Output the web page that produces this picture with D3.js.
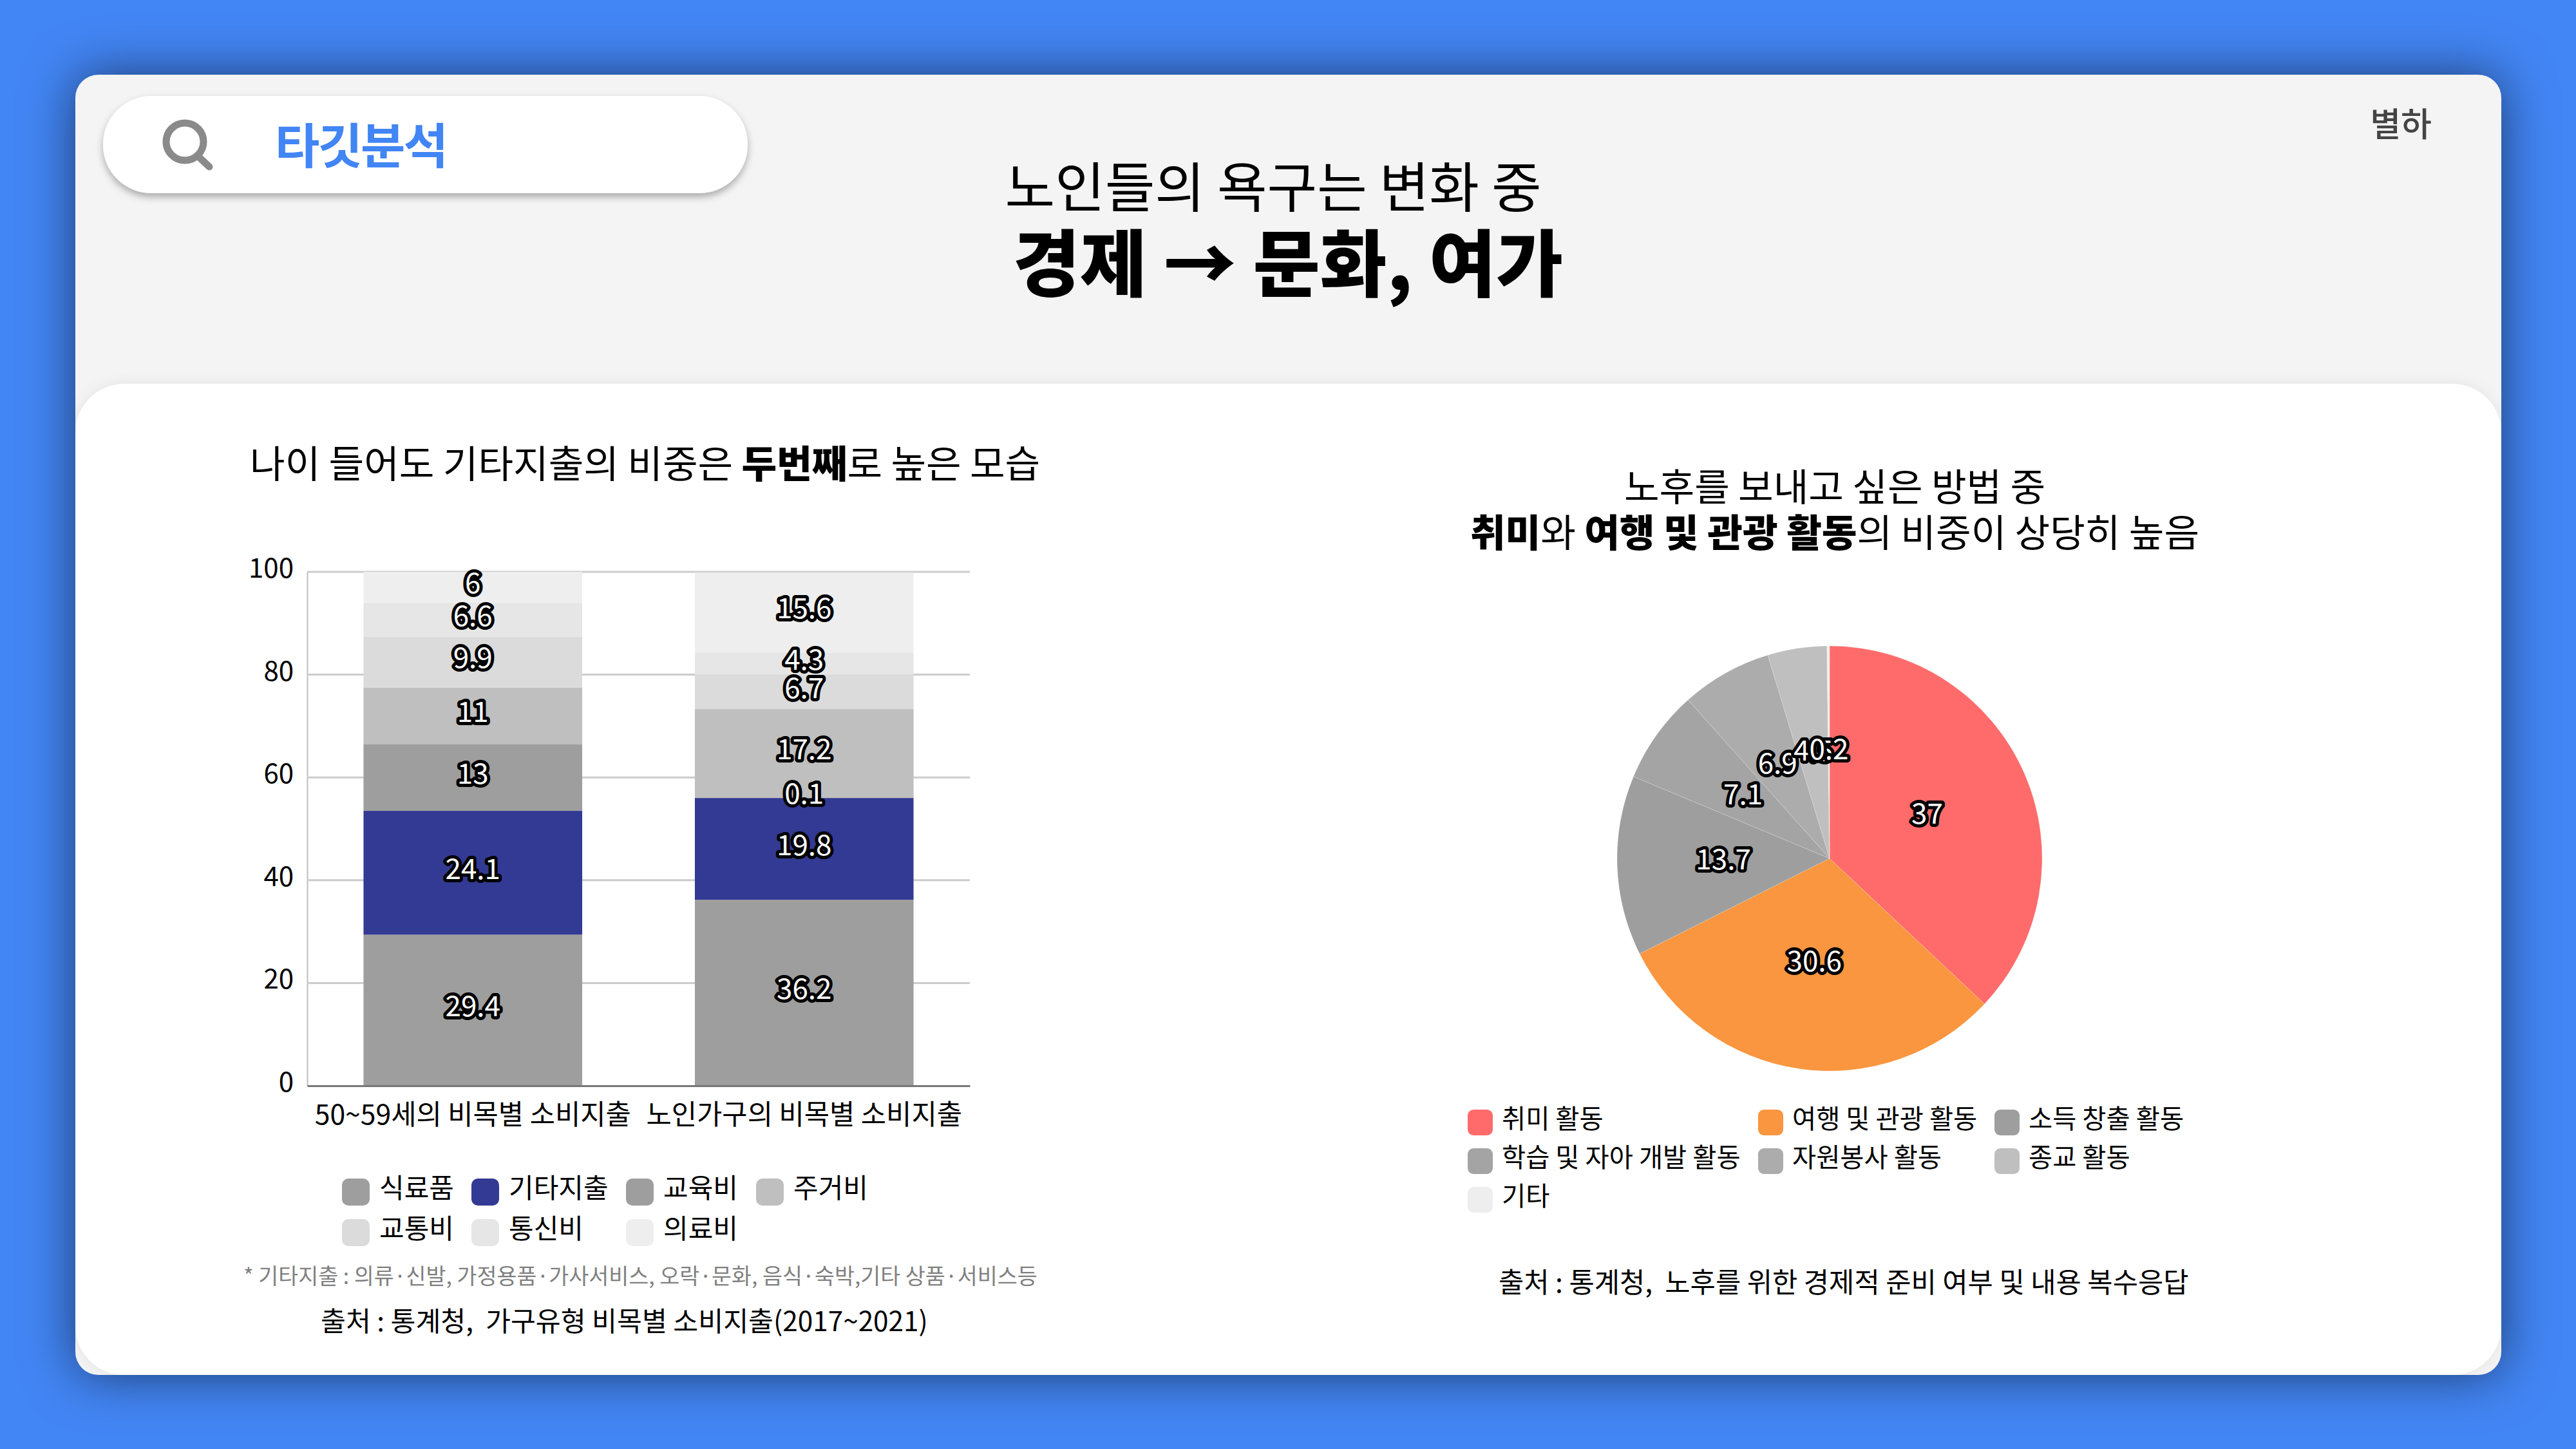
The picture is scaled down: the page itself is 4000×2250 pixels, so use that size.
<!DOCTYPE html>
<html>
<head>
<meta charset="utf-8">
<script src="https://cdn.jsdelivr.net/npm/d3@7"></script>
<style>
  html, body { margin: 0; padding: 0; background: #4285f4; }
  svg { display: block; }
  text { font-family: "Noto Sans CJK KR", "Noto Sans", sans-serif; }
</style>
</head>
<body>
<svg id="page"></svg>
<script>
const barCategories = ["50~59세의 비목별 소비지출", "노인가구의 비목별 소비지출"];
const barSeries = ["식료품", "기타지출", "교육비", "주거비", "교통비", "통신비", "의료비"];
const barColors = ["#9e9e9e", "#333a93", "#9e9e9e", "#bfbfbf", "#dbdbdb", "#e6e6e6", "#eeeeee"];
const age50Values = [29.4, 24.1, 13, 11, 9.9, 6.6, 6];
const elderValues = [36.2, 19.8, 0.1, 17.2, 6.7, 4.3, 15.6];
const yTicks = [0, 20, 40, 60, 80, 100];

const pieLabels = ["취미 활동", "여행 및 관광 활동", "소득 창출 활동", "학습 및 자아 개발 활동", "자원봉사 활동", "종교 활동", "기타"];
const pieValues = [37, 30.6, 13.7, 7.1, 6.9, 4.5, 0.2];
const pieColors = ["#ff6b6b", "#f9963f", "#9e9e9e", "#a4a4a4", "#acacac", "#bfbfbf", "#eeeeee"];

const svg = d3.select("#page").attr("width", 4000).attr("height", 2250);

const defs = svg.append("defs");
const panelShadow = defs.append("filter").attr("id", "panelShadow")
    .attr("x", "-10%").attr("y", "-10%").attr("width", "120%").attr("height", "120%");
panelShadow.append("feDropShadow")
    .attr("dx", 0).attr("dy", 0).attr("stdDeviation", 40)
    .attr("flood-color", "#000").attr("flood-opacity", 0.55);
const pillShadow = defs.append("filter").attr("id", "pillShadow")
    .attr("x", "-10%").attr("y", "-30%").attr("width", "120%").attr("height", "160%");
pillShadow.append("feDropShadow")
    .attr("dx", 0).attr("dy", 6).attr("stdDeviation", 6)
    .attr("flood-color", "#000").attr("flood-opacity", 0.3);
const whiteShadow = defs.append("filter").attr("id", "whiteShadow")
    .attr("x", "-5%").attr("y", "-10%").attr("width", "110%").attr("height", "120%");
whiteShadow.append("feDropShadow")
    .attr("dx", 0).attr("dy", 0).attr("stdDeviation", 10)
    .attr("flood-color", "#000").attr("flood-opacity", 0.07);
defs.append("clipPath").attr("id", "panelClip").append("rect")
    .attr("x", 117).attr("y", 116).attr("width", 3767).attr("height", 2019).attr("rx", 36);

// page chrome
svg.append("rect").attr("width", 4000).attr("height", 2250).attr("fill", "#4285f4");
svg.append("rect").attr("x", 117).attr("y", 116).attr("width", 3767).attr("height", 2019).attr("rx", 36)
    .attr("fill", "#f4f4f4").attr("filter", "url(#panelShadow)");
svg.append("g").attr("clip-path", "url(#panelClip)")
    .append("rect").attr("x", 117).attr("y", 596).attr("width", 3767).attr("height", 1539).attr("rx", 76)
    .attr("fill", "#fff").attr("filter", "url(#whiteShadow)");

svg.append("rect").attr("x", 160).attr("y", 149).attr("width", 1001).attr("height", 151).attr("rx", 75)
    .attr("fill", "#fff").attr("filter", "url(#pillShadow)");
svg.append("circle").attr("cx", 287).attr("cy", 220).attr("r", 29)
    .attr("fill", "none").attr("stroke", "#8a8a8a").attr("stroke-width", 11);
svg.append("line").attr("x1", 308).attr("y1", 243).attr("x2", 325).attr("y2", 259)
    .attr("stroke", "#8a8a8a").attr("stroke-width", 11).attr("stroke-linecap", "round");

const addText = (x, y, parts, size, opts = {}) => {
    const t = svg.append("text")
        .attr("x", x).attr("y", y)
        .attr("dy", "0.35em")
        .attr("font-size", size)
        .attr("font-weight", opts.weight || 400)
        .attr("fill", opts.fill || "#000")
        .attr("text-anchor", opts.anchor || "start")
        .attr("letter-spacing", opts.spacing || 0)
        .attr("xml:space", "preserve");
    (Array.isArray(parts) ? parts : [parts]).forEach(p => {
        const bold = typeof p !== "string";
        t.append("tspan").attr("font-weight", bold ? 900 : null).text(bold ? p.b : p);
    });
    return t;
};

addText(427, 228, "타깃분석", 75.5, {weight: 700, fill: "#4285f4", spacing: -3});
addText(3728, 194, "별하", 52, {weight: 500, fill: "#444", anchor: "middle"});
addText(1977, 292, "노인들의 욕구는 변화 중", 84.4, {anchor: "middle"});
addText(2000, 411, "경제 → 문화, 여가", 113, {weight: 900, anchor: "middle"});
addText(388, 721, ["나이 들어도 기타지출의 비중은 ", {b: "두번째"}, "로 높은 모습"], 59.4);
addText(2849, 757, "노후를 보내고 싶은 방법 중", 59.4, {anchor: "middle"});
addText(2849, 828, [{b: "취미"}, "와 ", {b: "여행 및 관광 활동"}, "의 비중이 상당히 높음"], 59.4, {anchor: "middle"});

// stacked bars
const barTable = barCategories.map((c, i) => {
    const row = {category: c};
    barSeries.forEach((s, j) => { row[s] = [age50Values, elderValues][i][j]; });
    return row;
});
const stacked = d3.stack().keys(barSeries)(barTable);

const x = d3.scaleBand().domain(barCategories).range([477, 1506]).paddingInner(0.34).paddingOuter(0.17);
const y = d3.scaleLinear().domain([0, 100]).range([1686, 888]);

const yAxis = svg.append("g").attr("transform", "translate(477,0)")
    .call(d3.axisLeft(y).tickValues(yTicks).tickSize(0).tickPadding(21));
yAxis.select(".domain").attr("stroke", "#bdbdbd").attr("stroke-width", 2);
yAxis.selectAll("text").attr("font-size", 42).attr("fill", "#000").attr("dy", "0.2em")
    .style("font-family", '"Noto Sans CJK KR", sans-serif');

svg.append("g").selectAll("line").data(yTicks.filter(d => d > 0)).join("line")
    .attr("x1", 477).attr("x2", 1506)
    .attr("y1", d => y(d)).attr("y2", d => y(d))
    .attr("stroke", "#cccccc").attr("stroke-width", 3);

svg.append("g").selectAll("g").data(stacked).join("g")
    .attr("fill", (d, i) => barColors[i])
    .selectAll("rect").data(d => d).join("rect")
        .attr("x", d => x(d.data.category))
        .attr("width", x.bandwidth())
        .attr("y", d => y(d[1]))
        .attr("height", d => y(d[0]) - y(d[1]));

const xAxis = svg.append("g").attr("transform", "translate(0,1686)")
    .call(d3.axisBottom(x).tickSize(0).tickPadding(30));
xAxis.select(".domain").attr("stroke", "#777").attr("stroke-width", 3);
xAxis.selectAll("text").attr("font-size", 42.7).attr("fill", "#000")
    .style("font-family", '"Noto Sans CJK KR", sans-serif');

const addValueLabel = (sel) => sel
    .attr("text-anchor", "middle")
    .attr("dy", "0.35em")
    .attr("font-size", 44)
    .attr("font-weight", 400)
    .attr("fill", "#fff")
    .attr("stroke", "#000")
    .attr("stroke-width", 10)
    .attr("stroke-linejoin", "round")
    .attr("paint-order", "stroke");

svg.append("g").selectAll("g").data(stacked).join("g")
    .selectAll("text").data(d => d.map(v => ({v, value: v[1] - v[0]}))).join("text")
        .attr("x", d => x(d.v.data.category) + x.bandwidth() / 2)
        .attr("y", d => (y(d.v[0]) + y(d.v[1])) / 2 - 6)
        .call(addValueLabel)
        .text(d => +d.value.toFixed(1));

const legendBarX = d3.scaleOrdinal().domain([0, 1, 2, 3]).range([531, 732, 972, 1174]);
const legendBar = svg.append("g").selectAll("g").data(barSeries).join("g")
    .attr("transform", (d, i) => `translate(${legendBarX(i % 4)},${1830 + 63 * Math.floor(i / 4)})`);
legendBar.append("rect").attr("width", 43).attr("height", 42).attr("rx", 10)
    .attr("fill", (d, i) => barColors[i]);
legendBar.append("text").attr("x", 58).attr("y", 15).attr("dy", "0.35em")
    .attr("font-size", 42).text(d => d);

addText(378, 1982, "* 기타지출 : 의류·신발, 가정용품·가사서비스, 오락·문화, 음식·숙박,기타 상품·서비스등", 33.7, {fill: "#808080"});
addText(498, 2052, "출처 : 통계청,  가구유형 비목별 소비지출(2017~2021)", 42.3);

// pie
const arc = d3.arc().innerRadius(0).outerRadius(330);
const slices = d3.pie().sort(null)(pieValues);
const pie = svg.append("g").attr("transform", "translate(2841,1333)");
pie.selectAll("path").data(slices).join("path")
    .attr("d", arc)
    .attr("fill", (d, i) => pieColors[i])
    .attr("stroke", "#fff")
    .attr("stroke-opacity", 0.2)
    .attr("stroke-width", 1);
pie.selectAll("text").data(slices).join("text")
    .attr("x", d => arc.centroid(d)[0])
    .attr("y", d => arc.centroid(d)[1] - 4)
    .call(addValueLabel)
    .text(d => d.data);

const legendPieX = d3.scaleOrdinal().domain([0, 1, 2]).range([2279, 2730, 3097]);
const legendPie = svg.append("g").selectAll("g").data(pieLabels).join("g")
    .attr("transform", (d, i) => `translate(${legendPieX(i % 3)},${1723 + 60 * Math.floor(i / 3)})`);
legendPie.append("rect").attr("width", 39).attr("height", 40).attr("rx", 9)
    .attr("fill", (d, i) => pieColors[i]);
legendPie.append("text").attr("x", 53).attr("y", 15).attr("dy", "0.35em")
    .attr("font-size", 40.4).text(d => d);

addText(2327, 1992, "출처 : 통계청,  노후를 위한 경제적 준비 여부 및 내용 복수응답", 42.7);
</script>
</body>
</html>
